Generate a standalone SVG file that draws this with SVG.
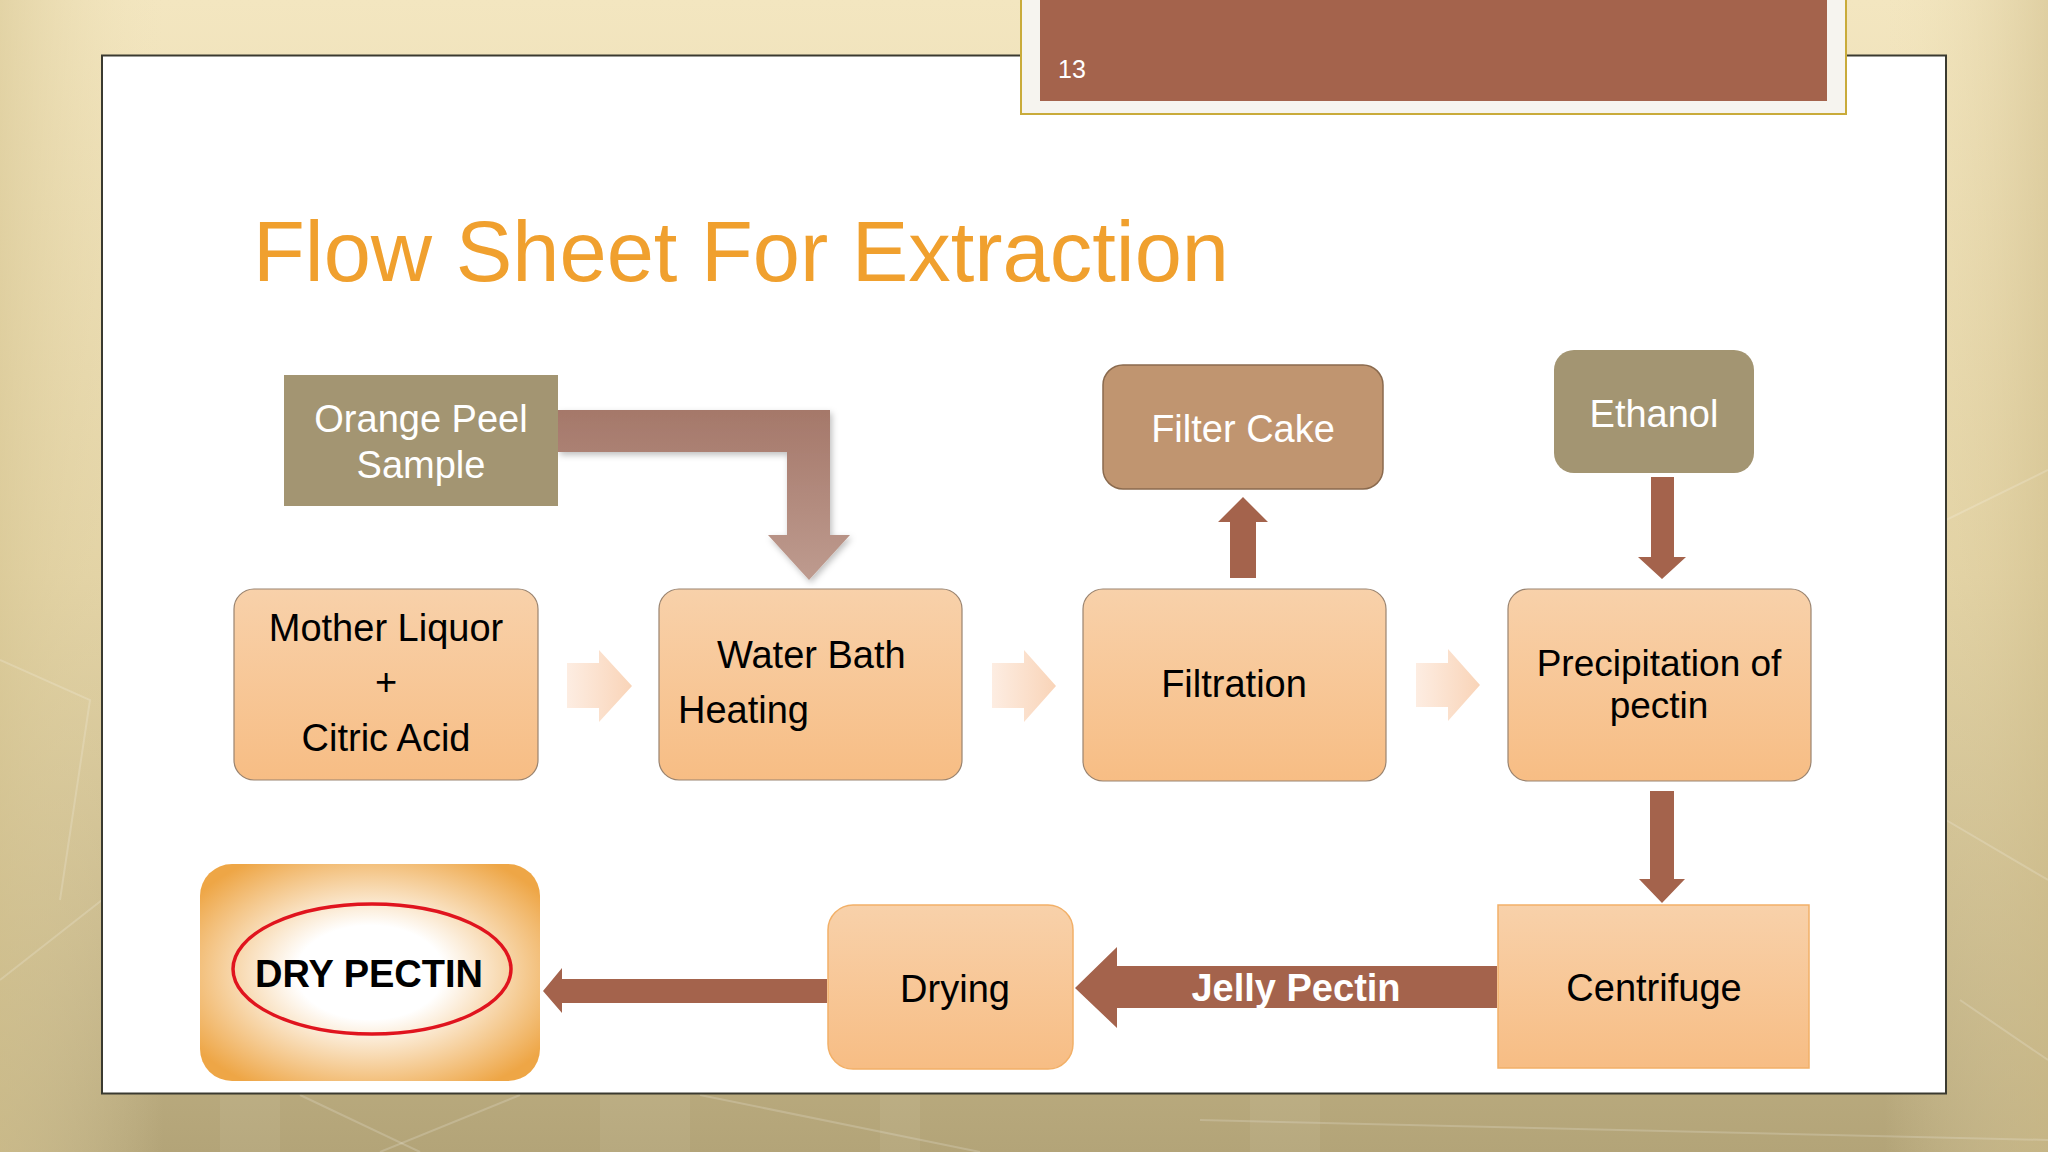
<svg xmlns="http://www.w3.org/2000/svg" width="2048" height="1152" viewBox="0 0 2048 1152">
<defs>
<linearGradient id="bg" x1="0" y1="0" x2="0" y2="1">
<stop offset="0" stop-color="#F3E6C0"/>
<stop offset="0.5" stop-color="#E2D2A4"/>
<stop offset="1" stop-color="#B3A478"/>
</linearGradient>
<linearGradient id="bgside" x1="0" y1="0" x2="1" y2="0">
<stop offset="0" stop-color="#D8C794" stop-opacity="0.6"/>
<stop offset="0.08" stop-color="#F0E2B8" stop-opacity="0"/>
<stop offset="0.92" stop-color="#F0E2B8" stop-opacity="0"/>
<stop offset="1" stop-color="#D2C08E" stop-opacity="0.6"/>
</linearGradient>
<linearGradient id="box" x1="0" y1="0" x2="0" y2="1">
<stop offset="0" stop-color="#F8D1AA"/>
<stop offset="1" stop-color="#F7BD84"/>
</linearGradient>
<linearGradient id="pale" x1="0" y1="0" x2="1" y2="0">
<stop offset="0" stop-color="#FDEDE2"/>
<stop offset="1" stop-color="#F9D4B8"/>
</linearGradient>
<linearGradient id="bent" x1="0" y1="0" x2="0" y2="1">
<stop offset="0" stop-color="#A5786A"/>
<stop offset="1" stop-color="#BE9B8F"/>
</linearGradient>
<radialGradient id="glow" cx="0.5" cy="0.5" r="0.62">
<stop offset="0.35" stop-color="#FFFFFF"/>
<stop offset="1" stop-color="#EEA646"/>
</radialGradient>
<filter id="shadow" x="-10%" y="-10%" width="130%" height="130%">
<feDropShadow dx="2" dy="3" stdDeviation="3" flood-color="#000" flood-opacity="0.25"/>
</filter>
</defs>
<style>
.t{font-family:"Liberation Sans",Arial,sans-serif;font-size:38px;fill:#000}
.w{fill:#FFFFFF}
.b{font-weight:bold}
.proc{fill:url(#box);stroke:#9A8470;stroke-width:1.2}
.proc2{fill:url(#box);stroke:#F2B068;stroke-width:1.5}
.solid{fill:#A4634C}
.paleArr{fill:url(#pale)}
</style>
<!-- background -->
<rect x="0" y="0" width="2048" height="1152" fill="url(#bg)"/>
<rect x="0" y="0" width="2048" height="1152" fill="url(#bgside)"/>
<g stroke="#FFFFFF" stroke-opacity="0.18" stroke-width="2" fill="none">
<path d="M0,660 L90,700 L60,900"/>
<path d="M0,980 L102,900"/>
<path d="M300,1095 L420,1152"/>
<path d="M520,1095 L380,1152"/>
<path d="M700,1095 L980,1152"/>
<path d="M1200,1120 L2048,1140"/>
<path d="M1946,520 L2048,470"/>
<path d="M1946,820 L2048,880"/>
<path d="M1960,1000 L2048,1060"/>
</g>
<g fill="#FFFFFF" fill-opacity="0.06">
<rect x="220" y="1095" width="60" height="57"/>
<rect x="600" y="1095" width="90" height="57"/>
<rect x="880" y="1095" width="40" height="57"/>
<rect x="1250" y="1095" width="70" height="57"/>
</g>
<!-- slide panel -->
<rect x="102" y="55.5" width="1844" height="1038" fill="#FFFFFF" stroke="#3A3A30" stroke-width="2"/>
<!-- banner -->
<g id="banner">
<rect x="1021" y="-4" width="825" height="118" fill="#F6F4EF" stroke="#C9AB3A" stroke-width="2"/>
<rect x="1040" y="0" width="787" height="101" fill="#A4634C"/>
<text x="1058" y="78" font-family="'Liberation Sans',Arial,sans-serif" font-size="25" fill="#FFFFFF">13</text>
</g>
<!-- title -->
<text id="title" x="253" y="281" font-family="'Liberation Sans',Arial,sans-serif" font-size="85" fill="#F0A02E" textLength="976" lengthAdjust="spacingAndGlyphs">Flow Sheet For Extraction</text>
<!-- connectors -->
<g id="connectors">
<path d="M558,410 L830,410 L830,535 L850,535 L809,580 L768,535 L787,535 L787,452 L558,452 Z" fill="url(#bent)" filter="url(#shadow)"/>
<path class="paleArr" d="M567,663 L599,663 L599,650 L632,686 L599,722 L599,708 L567,708 Z"/>
<path class="paleArr" d="M992,663 L1024,663 L1024,650 L1056,686 L1024,722 L1024,708 L992,708 Z"/>
<path class="paleArr" d="M1416,663 L1448,663 L1448,649 L1480,685 L1448,721 L1448,707 L1416,707 Z"/>
<path class="solid" d="M1230,578 L1230,522 L1218,522 L1243,497 L1268,522 L1256,522 L1256,578 Z"/>
<path class="solid" d="M1651,477 L1674,477 L1674,557 L1686,557 L1662,579 L1638,557 L1651,557 Z"/>
<path class="solid" d="M1650,791 L1674,791 L1674,879 L1685,879 L1662,903 L1639,879 L1650,879 Z"/>
<path class="solid" d="M1497,966 L1117,966 L1117,947 L1075,988 L1117,1028 L1117,1008 L1497,1008 Z"/>
<text class="t w b" x="1296" y="1001" text-anchor="middle">Jelly Pectin</text>
<path class="solid" d="M827,979 L562,979 L562,968 L543,991 L562,1013 L562,1003 L827,1003 Z"/>
</g>
<!-- nodes -->
<g id="orange-peel">
<rect x="284" y="375" width="274" height="131" fill="#A39572"/>
<text class="t w" x="421" y="432" text-anchor="middle">Orange Peel</text>
<text class="t w" x="421" y="478" text-anchor="middle">Sample</text>
</g>
<g id="mother-liquor">
<rect class="proc" x="234" y="589" width="304" height="191" rx="20"/>
<text class="t" x="386" y="641" text-anchor="middle">Mother Liquor</text>
<text class="t" x="386" y="695" text-anchor="middle">+</text>
<text class="t" x="386" y="751" text-anchor="middle">Citric Acid</text>
</g>
<g id="water-bath">
<rect class="proc" x="659" y="589" width="303" height="191" rx="20"/>
<text class="t" x="717" y="668">Water Bath</text>
<text class="t" x="678" y="723">Heating</text>
</g>
<g id="filtration">
<rect class="proc" x="1083" y="589" width="303" height="192" rx="20"/>
<text class="t" x="1234" y="697" text-anchor="middle">Filtration</text>
</g>
<g id="filter-cake">
<rect x="1103" y="365" width="280" height="124" rx="20" fill="#C09570" stroke="#8A6A4E" stroke-width="1.5"/>
<text class="t w" x="1243" y="442" text-anchor="middle">Filter Cake</text>
</g>
<g id="ethanol">
<rect x="1554" y="350" width="200" height="123" rx="20" fill="#A39572"/>
<text class="t w" x="1654" y="427" text-anchor="middle">Ethanol</text>
</g>
<g id="precipitation">
<rect class="proc" x="1508" y="589" width="303" height="192" rx="20"/>
<text class="t" x="1659" y="676" text-anchor="middle" style="font-size:37px">Precipitation of</text>
<text class="t" x="1659" y="718" text-anchor="middle" style="font-size:37px">pectin</text>
</g>
<g id="centrifuge">
<rect class="proc2" x="1498" y="905" width="311" height="163"/>
<text class="t" x="1654" y="1001" text-anchor="middle">Centrifuge</text>
</g>
<g id="drying">
<rect class="proc2" x="828" y="905" width="245" height="164" rx="25"/>
<text class="t" x="955" y="1002" text-anchor="middle">Drying</text>
</g>
<g id="dry-pectin">
<rect x="200" y="864" width="340" height="217" rx="32" fill="url(#glow)"/>
<ellipse cx="372" cy="969" rx="139" ry="65" fill="none" stroke="#E0141E" stroke-width="3.5"/>
<text class="t b" x="369" y="987" text-anchor="middle">DRY PECTIN</text>
</g>
</svg>
